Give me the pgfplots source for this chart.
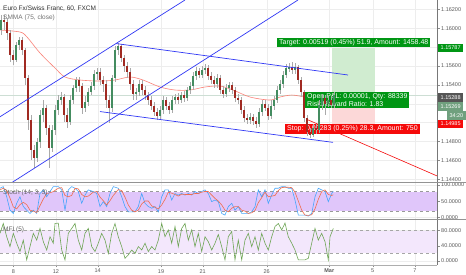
\documentclass[border=0pt]{standalone}
\usepackage{fontspec}
\setmainfont{Liberation Sans}
\usepackage{pgfplots}
\usepackage{pgfplotstable}
\pgfplotsset{compat=1.18}
\definecolor{upc}{RGB}{68,140,96}
\definecolor{dnc}{RGB}{160,42,34}
\definecolor{wickc}{RGB}{170,170,170}
\definecolor{tvblue}{RGB}{48,56,245}
\definecolor{smma}{RGB}{250,130,120}
\definecolor{tgreen}{RGB}{0,150,20}
\definecolor{tred}{RGB}{245,10,10}
\definecolor{zoneg}{RGB}{208,236,208}
\definecolor{zoner}{RGB}{252,216,216}
\definecolor{stband}{RGB}{224,198,250}
\definecolor{mfband}{RGB}{243,231,252}
\definecolor{kblue}{RGB}{70,165,250}
\definecolor{dorange}{RGB}{240,110,80}
\definecolor{mfig}{RGB}{110,165,85}
\definecolor{axgray}{RGB}{120,120,120}
\definecolor{lastp}{RGB}{85,85,85}
\definecolor{magr}{RGB}{112,160,126}
\definecolor{lpline}{RGB}{205,222,212}
\definecolor{txtg}{RGB}{90,90,90}

\pgfplotstableread{
x o h l c
1 1.15980 1.16139 1.15927 1.16086
4 1.16086 1.16139 1.15980 1.16065
7 1.16065 1.16107 1.15874 1.15949
10 1.15949 1.15980 1.15641 1.15716
13 1.15716 1.15769 1.15610 1.15663
16 1.15663 1.15853 1.15641 1.15822
19 1.15822 1.15906 1.15769 1.15874
22 1.15874 1.15906 1.15716 1.15769
25 1.15769 1.15790 1.15398 1.15472
28 1.15472 1.15504 1.14921 1.15027
31 1.15027 1.15080 1.14604 1.14710
34 1.14710 1.14763 1.14519 1.14625
37 1.14625 1.14837 1.14583 1.14794
40 1.14794 1.15133 1.14731 1.15080
43 1.15080 1.15239 1.15006 1.15154
46 1.15154 1.15186 1.14869 1.14943
49 1.14943 1.14974 1.14519 1.14731
52 1.14731 1.14974 1.14689 1.14921
55 1.14921 1.15186 1.14869 1.15133
58 1.15133 1.15292 1.15080 1.15239
61 1.15239 1.15324 1.15186 1.15271
64 1.15271 1.15303 1.15006 1.15080
67 1.15080 1.15154 1.14943 1.15006
70 1.15006 1.15292 1.14974 1.15239
73 1.15239 1.15398 1.15197 1.15366
76 1.15366 1.15483 1.15324 1.15451
79 1.15451 1.15483 1.15324 1.15387
82 1.15387 1.15419 1.15091 1.15154
85 1.15154 1.15281 1.15112 1.15218
88 1.15218 1.15366 1.15176 1.15324
91 1.15324 1.15430 1.15292 1.15387
94 1.15387 1.15557 1.15345 1.15514
97 1.15514 1.15578 1.15451 1.15536
100 1.15536 1.15578 1.15398 1.15451
103 1.15451 1.15493 1.15324 1.15409
106 1.15409 1.15451 1.15154 1.15239
109 1.15239 1.15292 1.14996 1.15154
112 1.15154 1.15504 1.15112 1.15472
115 1.15472 1.15811 1.15430 1.15769
118 1.15769 1.15843 1.15716 1.15811
121 1.15811 1.15832 1.15641 1.15684
124 1.15684 1.15716 1.15536 1.15599
127 1.15599 1.15641 1.15472 1.15536
130 1.15536 1.15578 1.15345 1.15409
133 1.15409 1.15451 1.15239 1.15303
136 1.15303 1.15366 1.15239 1.15324
139 1.15324 1.15451 1.15281 1.15409
142 1.15409 1.15451 1.15292 1.15345
145 1.15345 1.15387 1.15239 1.15292
148 1.15292 1.15324 1.15186 1.15239
151 1.15239 1.15281 1.15133 1.15176
154 1.15176 1.15218 1.15070 1.15112
157 1.15112 1.15154 1.15027 1.15070
160 1.15070 1.15176 1.15038 1.15133
163 1.15133 1.15281 1.15091 1.15239
166 1.15239 1.15271 1.15133 1.15176
169 1.15176 1.15218 1.15091 1.15133
172 1.15133 1.15281 1.15101 1.15239
175 1.15239 1.15303 1.15197 1.15271
178 1.15271 1.15313 1.15197 1.15239
181 1.15239 1.15324 1.15207 1.15292
184 1.15292 1.15334 1.15218 1.15260
187 1.15260 1.15377 1.15229 1.15345
190 1.15345 1.15430 1.15303 1.15387
193 1.15387 1.15536 1.15345 1.15493
196 1.15493 1.15589 1.15451 1.15546
199 1.15546 1.15578 1.15472 1.15504
202 1.15504 1.15599 1.15472 1.15557
205 1.15557 1.15620 1.15514 1.15578
208 1.15578 1.15610 1.15451 1.15493
211 1.15493 1.15536 1.15409 1.15451
214 1.15451 1.15493 1.15366 1.15409
217 1.15409 1.15514 1.15366 1.15472
220 1.15472 1.15504 1.15303 1.15345
223 1.15345 1.15387 1.15260 1.15303
226 1.15303 1.15409 1.15271 1.15366
229 1.15366 1.15430 1.15324 1.15398
232 1.15398 1.15430 1.15303 1.15345
235 1.15345 1.15377 1.15218 1.15260
238 1.15260 1.15303 1.15197 1.15239
241 1.15239 1.15271 1.15091 1.15133
244 1.15133 1.15176 1.15006 1.15048
247 1.15048 1.15091 1.14985 1.15027
250 1.15027 1.15101 1.14985 1.15059
253 1.15059 1.15091 1.14974 1.15017
256 1.15017 1.15059 1.14943 1.14985
259 1.14985 1.15154 1.14953 1.15112
262 1.15112 1.15239 1.15070 1.15197
265 1.15197 1.15239 1.15123 1.15154
268 1.15154 1.15197 1.15027 1.15070
271 1.15070 1.15239 1.15038 1.15176
274 1.15176 1.15281 1.15133 1.15239
277 1.15239 1.15387 1.15207 1.15345
280 1.15345 1.15451 1.15303 1.15409
283 1.15409 1.15546 1.15366 1.15504
286 1.15504 1.15620 1.15472 1.15578
289 1.15578 1.15631 1.15536 1.15589
292 1.15589 1.15641 1.15514 1.15557
295 1.15557 1.15631 1.15514 1.15589
298 1.15589 1.15610 1.15409 1.15451
301 1.15451 1.15483 1.15271 1.15324
304 1.15324 1.15345 1.15006 1.15048
307 1.15048 1.15080 1.14858 1.14900
310 1.14900 1.14943 1.14837 1.14869
313 1.14869 1.14985 1.14847 1.14943
316 1.14943 1.14985 1.14879 1.14921
319 1.14921 1.15239 1.14890 1.15186
322 1.15186 1.15303 1.15133 1.15260
325 1.15260 1.15292 1.15080 1.15197
328 1.15197 1.15281 1.15165 1.15239
331 1.15239 1.15281 1.15154 1.15186
334 1.15186 1.15324 1.15154 1.15292
}\candles

\pgfplotstableread{
x k d
0 90 85
3.3 95 90
6.7 64 83
10 23 60
13.3 13 33
16.7 44 27
20 64 40
23.3 34 47
26.7 23 40
30 13 23
33.3 23 20
36.7 13 16
40 74 37
43.3 85 57
46.7 64 74
50 80 76
53.3 95 80
58.3 95 90
61.7 85 92
65 23 68
68.3 85 64
71.7 95 68
75 90 90
78.3 80 88
81.7 44 71
85 69 64
88.3 85 66
93.3 80 78
96.7 74 80
100 34 63
103.3 49 52
106.7 34 39
110 74 52
113.3 95 68
118.3 90 86
121.7 64 83
125 34 63
128.3 18 39
131.7 18 23
135 18 18
138.3 34 23
141.7 74 42
145 44 51
148.3 34 51
151.7 29 36
155 34 32
158.3 18 27
161.7 64 39
165 85 56
168.3 85 78
171.7 54 75
175 74 71
178.3 69 66
181.7 74 72
185 69 71
188.3 74 71
191.7 69 71
195 80 74
198.3 74 74
201.7 80 78
205 85 80
208.3 74 80
211.7 49 69
215 54 59
218.3 49 51
221.7 13 39
225 8 23
228.3 34 18
231.7 44 29
235 23 34
238.3 34 34
241.7 13 23
245 13 20
248.3 13 13
251.7 18 15
255 34 22
258.3 85 46
261.7 64 61
265 85 78
268.3 44 64
271.7 69 66
275 90 68
278.3 90 83
281.7 95 92
285 95 93
288.3 90 93
291.7 90 92
295 54 78
298.3 8 51
301.7 8 23
305 8 8
308.3 5 7
311.7 13 9
315 64 27
318.3 90 56
321.7 85 80
325 80 85
328.3 49 71
331.7 74 68
333.3 80 70
}\stoch

\pgfplotstableread{
x m
0 73
3.3 99
6.7 64
10 38
13.3 73
16.7 47
20 25
23.3 55
26.7 3
30 38
33.3 73
36.7 55
40 86
43.3 51
46.7 29
50 64
53.3 47
55 99
58.3 100
60 64
61.7 29
65 3
68.3 73
71.7 86
75 99
78.3 55
81.7 29
85 73
88.3 86
91.7 38
95 25
98.3 47
101.7 73
105 55
108.3 20
111.7 73
115 99
118.3 64
121.7 38
125 7
128.3 16
131.7 29
135 20
138.3 38
141.7 29
145 47
148.3 25
151.7 38
155 29
158.3 55
161.7 99
165 64
168.3 82
171.7 47
175 91
178.3 38
181.7 86
185 99
188.3 55
191.7 82
195 38
198.3 73
201.7 25
205 64
208.3 51
211.7 29
215 47
218.3 70
221.7 38
225 3
228.3 64
231.7 78
235 3
238.3 55
241.7 3
245 55
248.3 73
251.7 38
255 64
258.3 29
261.7 73
265 47
268.3 29
271.7 64
275 91
278.3 99
281.7 82
285 100
288.3 64
291.7 47
295 29
298.3 3
301.7 3
305 3
308.3 7
311.7 47
315 86
318.3 55
321.7 73
325 51
328.3 3
330 64
333.3 86
}\mfi

\pgfplotsset{
  tvpane/.style={
    scale only axis, width=437pt, anchor=south west,
    xmin=0, xmax=437,
    axis line style={draw=none},
    xtick={13.3,56,97.7,161,202.7,266.7,329.3,372.7,415},
    grid=major, major grid style={color=black!7, line width=0.4pt},
    ytick pos=right, yticklabel pos=right,
    tick align=outside, major tick length=2.5pt,
    ytick style={draw=black!45, line width=0.4pt},
    every tick label/.append style={font=\fontsize{5.5}{6}\selectfont, text=txtg},
    yticklabel style={anchor=west, inner xsep=1.5pt},
    clip=true,
  },
}
\tikzset{
  lbl/.style={font=\fontsize{7}{8}\selectfont, text=white, inner xsep=2pt, inner ysep=1.3pt, anchor=west, align=left},
  pbox/.style={font=\fontsize{5.5}{6}\selectfont, text=white, inner xsep=2.5pt, inner ysep=0pt, minimum height=8.5pt, anchor=west},
}

\begin{document}
\begin{tikzpicture}[x=1pt,y=1pt]
\useasboundingbox (0pt,0pt) rectangle (466pt,275pt);
\fill[white] (0pt,0pt) rectangle (466pt,275pt);

% ---------- main price pane ----------
\begin{axis}[tvpane, at={(0pt,92.3pt)}, height=182.7pt,
  ymin=1.14364, ymax=1.16298,
  xmajorticks=false, xticklabel={},
  ytick={1.144,1.146,1.148,1.150,1.152,1.154,1.156,1.158,1.160,1.162},
  yticklabels={1.14400,1.14600,1.14800,{},{},1.15400,1.15600,{},1.16000,1.16200},
]
% position zones
\addplot[fill=zoneg, draw=none] coordinates {(331.7,1.15269) (375,1.15269) (375,1.15787) (331.7,1.15787)} -- cycle;
\addplot[fill=zoner, draw=none] coordinates {(331.7,1.14985) (375,1.14985) (375,1.15269) (331.7,1.15269)} -- cycle;
% last price line
\addplot[lpline, line width=0.9pt] coordinates {(0,1.15288) (437,1.15288)};
% SMMA 75
\addplot[smma, line width=0.6pt, smooth] coordinates {
(0,1.15980) (20,1.15959) (27,1.15906) (40,1.15737) (55,1.15578) (65,1.15483) (80,1.15451)
(100,1.15440) (115,1.15451) (130,1.15483) (143,1.15451) (160,1.15377) (175,1.15345)
(190,1.15345) (205,1.15377) (220,1.15387) (233,1.15345) (250,1.15271) (270,1.15239)
(280,1.15271) (292,1.15292) (305,1.15271) (320,1.15260) (334,1.15271)};
% red trend line
\addplot[tred, line width=0.6pt] coordinates {(306.7,1.15035) (440,1.14422)};
% open P&L and stop boxes (under the candles)
\node[lbl, fill=tgreen] at (axis cs:305,1.15239) {Open P\&L: 0.00001, Qty: 88339\\Risk/Reward Ratio: 1.83};
\node[lbl, fill=tred] at (axis cs:285,1.14932) {Stop: 0.00283 (0.25\%) 28.3, Amount: 750};
% candles: wicks
\addplot[draw=none, mark=none, error bars/.cd, y dir=both, y explicit, error mark=none,
  error bar style={draw=wickc, line width=0.45pt}]
  table[x=x, y expr={(\thisrow{h}+\thisrow{l})/2}, y error expr={(\thisrow{h}-\thisrow{l})/2}] {\candles};
% bodies up
\addplot[draw=none, mark=none, x filter/.expression={\thisrow{c}>\thisrow{o} ? x : nan},
  error bars/.cd, y dir=both, y explicit, error mark=none,
  error bar style={draw=upc, line width=1.8pt}]
  table[x=x, y expr={(\thisrow{o}+\thisrow{c})/2}, y error expr={abs(\thisrow{c}-\thisrow{o})/2}] {\candles};
% bodies down
\addplot[draw=none, mark=none, x filter/.expression={\thisrow{c}<\thisrow{o} ? x : nan},
  error bars/.cd, y dir=both, y explicit, error mark=none,
  error bar style={draw=dnc, line width=1.8pt}]
  table[x=x, y expr={(\thisrow{o}+\thisrow{c})/2}, y error expr={abs(\thisrow{c}-\thisrow{o})/2}] {\candles};
% blue channel lines
\addplot[tvblue, line width=0.7pt] coordinates {(0,1.15062) (185,1.16298)};
\addplot[tvblue, line width=0.7pt] coordinates {(11.7,1.14364) (298,1.16298)};
\addplot[tvblue, line width=0.7pt] coordinates {(116,1.15837) (348,1.15504)};
\addplot[tvblue, line width=0.7pt] coordinates {(100,1.15117) (333,1.14791)};
% target box
\node[lbl, fill=tgreen] at (axis cs:277,1.15848) {Target: 0.00519 (0.45\%) 51.9, Amount: 1458.48};
\end{axis}

% ---------- Stoch pane ----------
\begin{axis}[tvpane, at={(0pt,55.7pt)}, height=36.6pt,
  ymin=-4.9, ymax=107,
  xmajorticks=false, xticklabel={},
  ytick={0,50,100}, yticklabels={0.0000,50.0000,100.0000},
]
\addplot[fill=stband, draw=none] coordinates {(0,20) (437,20) (437,80) (0,80)} -- cycle;
\addplot[black!40, dashed, line width=0.4pt] coordinates {(0,80) (437,80)};
\addplot[black!40, dashed, line width=0.4pt] coordinates {(0,20) (437,20)};
\addplot[kblue, line width=0.6pt] table[x=x, y=k] {\stoch};
\addplot[dorange, line width=0.6pt] table[x=x, y=d] {\stoch};
\end{axis}

% ---------- MFI pane ----------
\begin{axis}[tvpane, at={(0pt,10pt)}, height=45.7pt,
  ymin=-10.6, ymax=110.1,
  xtick pos=bottom, xtick style={draw=black!45},
  xticklabels={8,12,14,19,21,26,\textbf{Mar},5,7},
  xticklabel style={inner ysep=1.5pt},
  ytick={0,40,80}, yticklabels={0.0000,40.0000,80.0000},
]
\addplot[fill=mfband, draw=none] coordinates {(0,20) (437,20) (437,80) (0,80)} -- cycle;
\addplot[black!35, dashed, line width=0.4pt] coordinates {(0,80) (437,80)};
\addplot[black!35, dashed, line width=0.4pt] coordinates {(0,20) (437,20)};
\addplot[mfig, line width=0.6pt] table[x=x, y=m] {\mfi};
\end{axis}

% frame lines
\draw[axgray, line width=0.6pt] (437pt,10pt) -- (437pt,275pt);
\draw[axgray!80, line width=1.1pt] (0pt,92.3pt) -- (466pt,92.3pt);
\draw[axgray!80, line width=1.1pt] (0pt,55.7pt) -- (466pt,55.7pt);
\draw[axgray!60, line width=0.5pt] (0pt,10pt) -- (437pt,10pt);

% pane titles
\node[anchor=west, font=\fontsize{6.5}{7}\selectfont, text=black!80, inner sep=0pt] at (3pt,266.7pt) {Euro Fx/Swiss Franc, 60, FXCM};
\node[anchor=west, font=\fontsize{6.5}{7}\selectfont, text=black!55, inner sep=0pt] at (3pt,256.7pt) {SMMA (75, close)};
\node[anchor=west, font=\fontsize{6.5}{7}\selectfont, text=black!60, inner sep=0pt] at (3pt,81.7pt) {Stoch (14, 3, 3)};
\node[anchor=west, font=\fontsize{6.5}{7}\selectfont, text=black!60, inner sep=0pt] at (3pt,45pt) {MFI (5)};

% price scale boxes
\node[pbox, fill=tgreen] at (438pt,227pt) {1.15787};
\node[pbox, fill=lastp] at (438pt,177.3pt) {1.15288};
\node[pbox, fill=magr] at (438pt,168.3pt) {1.15269};
\node[pbox, fill=magr, anchor=east] at (466pt,159.3pt) {34:20};
\node[pbox, fill=tred] at (438pt,151pt) {1.14985};
\end{tikzpicture}
\end{document}
